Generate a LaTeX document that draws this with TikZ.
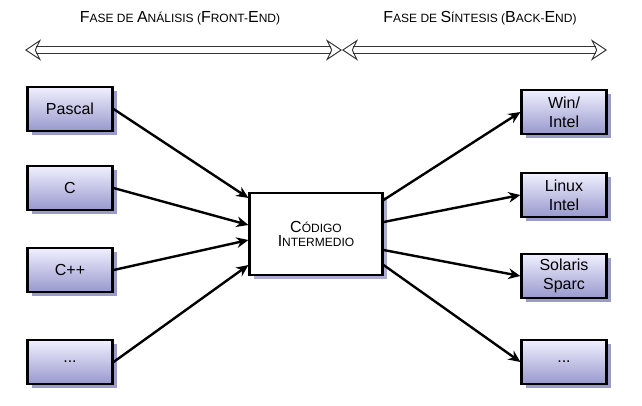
\documentclass[tikz,border=0pt]{standalone}
\usepackage{fontspec}
\setmainfont{Liberation Sans}
\usetikzlibrary{arrows.meta,shadows}
\newcommand{\bg}[1]{{\large #1}}
\tikzset{
  lang/.style={draw=black, line width=1.6pt, top color=blue!6, bottom color=blue!35!gray!60,
    minimum width=85pt*0.75, minimum height=44pt*0.75, align=center, font=\large,
    drop shadow={shadow xshift=3pt, shadow yshift=-3pt, fill=blue!30!gray, opacity=0.6}},
  flow/.style={line width=1.8pt, -{Stealth[length=9pt,width=8pt]}},
  phase/.style={draw=black!80, fill=gray!25, line width=0.7pt,
    {Stealth[open,length=12pt,width=16pt]}-{Stealth[open,length=12pt,width=16pt]}, double distance=4pt},
  caps/.style={font=\small},
}
\begin{document}
\begin{tikzpicture}[x=0.75pt,y=0.75pt,yscale=-1,xscale=1]
\useasboundingbox (0,0) rectangle (642,405);

%Top labels
\node[caps] (lbla) at (180,18) {\bg{F}ASE DE \bg{A}NÁLISIS (\bg{F}RONT-\bg{E}ND)};
\node[caps] (lblb) at (480,18) {\bg{F}ASE DE \bg{S}ÍNTESIS (\bg{B}ACK-\bg{E}ND)};
\coordinate (pa) at (25,50);
\coordinate (pm) at (342,50);
\coordinate (pb) at (607,50);
\draw[phase] (pa) -- (pm);
\draw[phase] (pm) -- (pb);

%Source languages
\node[lang] (pascal) at (70,109) {Pascal};
\node[lang] (c) at (70,188) {C};
\node[lang] (cpp) at (70,270) {C++};
\node[lang] (src) at (70,362) {...};

%Intermediate code
\node[draw=black, line width=1.6pt, fill=white, minimum width=133pt*0.75, minimum height=82pt*0.75,
  align=center, caps,
  drop shadow={shadow xshift=3pt, shadow yshift=-3pt, fill=blue!30!gray, opacity=0.5}]
  (ci) at (316,234) {\bg{C}ÓDIGO\\\bg{I}NTERMEDIO};

%Targets
\node[lang] (win) at (564,112) {Win/\\Intel};
\node[lang] (linux) at (564,195) {Linux\\Intel};
\node[lang] (sol) at (564,276) {Solaris\\Sparc};
\node[lang] (dst) at (564,362) {...};

%Connectors
\draw[flow] (pascal.east) -- (ci.west |- 0,198);
\draw[flow] (c.east) -- (ci.west |- 0,225);
\draw[flow] (cpp.east) -- (ci.west |- 0,240);
\draw[flow] (src.east) -- (ci.west |- 0,265);
\draw[flow] (ci.east |- 0,200) -- (win.west);
\draw[flow] (ci.east |- 0,222) -- (linux.west);
\draw[flow] (ci.east |- 0,250) -- (sol.west);
\draw[flow] (ci.east |- 0,265) -- (dst.west);
\end{tikzpicture}
\end{document}
